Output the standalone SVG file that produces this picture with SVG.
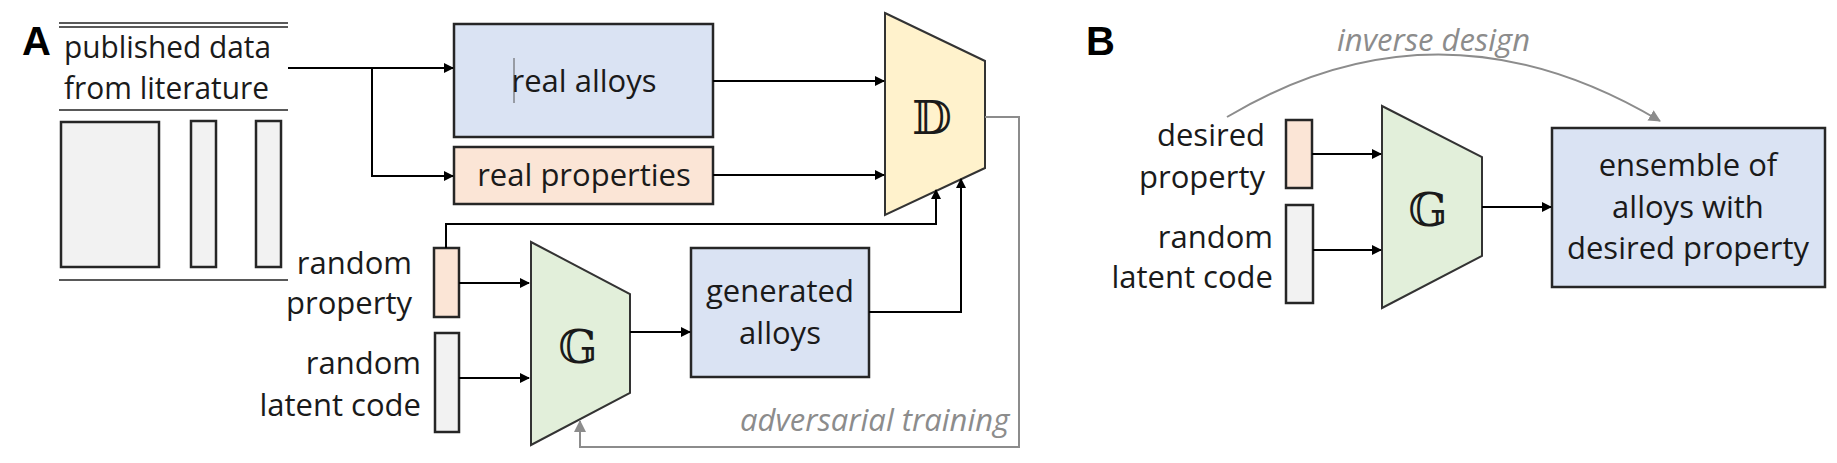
<svg xmlns="http://www.w3.org/2000/svg" width="1837" height="463" viewBox="0 0 1837 463">
<style>
text{font-family:"Open Sans","Noto Sans",sans-serif;font-size:31px;fill:#1a1a1a}
.lab{font-family:"Liberation Sans",sans-serif;font-weight:bold;font-size:40px;fill:#000}
.gr{font-style:italic;fill:#8c8c8c}
.ds{font-family:"DejaVu Serif","DejaVu Sans",serif;font-size:46px;text-anchor:middle}
.mid{text-anchor:middle}.end{text-anchor:end}
.box{stroke:#262626;stroke-width:2.5}
.c{fill:none;stroke:#000;stroke-width:2}
.g{fill:none;stroke:#8c8c8c;stroke-width:2}
.thin{stroke:#595959;stroke-width:2}
</style>
<defs>
<marker id="a" markerWidth="10" markerHeight="10" refX="9" refY="5" orient="auto" markerUnits="userSpaceOnUse"><path d="M0,0L10,5L0,10z" fill="#000"/></marker>
<marker id="ag" markerWidth="12" markerHeight="12" refX="11" refY="6" orient="auto" markerUnits="userSpaceOnUse"><path d="M0,0L12,6L0,12z" fill="#8c8c8c"/></marker>
</defs>
<text class="lab" x="22" y="55">A</text>
<text class="lab" x="1086" y="55">B</text>
<g id="literature">
<line x1="59" y1="23" x2="288" y2="23" class="thin"/><line x1="59" y1="27" x2="288" y2="27" class="thin"/>
<text x="64" y="58" textLength="207" lengthAdjust="spacingAndGlyphs">published data</text>
<text x="64" y="99" textLength="205" lengthAdjust="spacingAndGlyphs">from literature</text>
<line x1="59" y1="110" x2="288" y2="110" class="thin"/>
<rect x="61" y="122" width="98" height="145" fill="#f2f2f2" class="box"/>
<rect x="191" y="121" width="25" height="146" fill="#f2f2f2" class="box"/>
<rect x="256" y="121" width="25" height="146" fill="#f2f2f2" class="box"/>
<line x1="59" y1="280" x2="288" y2="280" class="thin"/>
</g>
<g id="realAlloys"><rect x="454" y="24" width="259" height="113" fill="#dae3f3" class="box"/><line x1="514" y1="58" x2="514" y2="103" stroke="#555" stroke-width="1"/><text class="mid" x="584" y="92">real alloys</text></g>
<g id="realProps"><rect x="454" y="147" width="259" height="57" fill="#fbe5d6" class="box"/><text class="mid" x="584" y="186">real properties</text></g>
<g id="D"><path d="M885,13L985,61L985,168L885,215z" fill="#fff2cc" stroke="#333" stroke-width="2"/><text class="ds" x="932" y="134">𝔻</text></g>
<g id="randProp"><rect x="434" y="248" width="25" height="69" fill="#fbe5d6" class="box"/><text class="end" x="412" y="274">random</text><text class="end" x="412" y="314">property</text></g>
<g id="randLatent"><rect x="435" y="333" width="24" height="99" fill="#f2f2f2" class="box"/><text class="end" x="421" y="374">random</text><text class="end" x="421" y="416">latent code</text></g>
<g id="G"><path d="M531,242L630,294L630,393L531,445z" fill="#e2efda" stroke="#333" stroke-width="2"/><text class="ds" x="578" y="363">𝔾</text></g>
<g id="genAlloys"><rect x="691" y="248" width="178" height="129" fill="#dae3f3" class="box"/><text class="mid" x="780" y="302">generated</text><text class="mid" x="780" y="344">alloys</text></g>
<text class="gr" x="740" y="431">adversarial training</text>
<g id="desProp"><rect x="1286" y="120" width="26" height="68" fill="#fbe5d6" class="box"/><text class="end" x="1265" y="146">desired</text><text class="end" x="1265" y="188">property</text></g>
<g id="randLatentB"><rect x="1286" y="205" width="27" height="98" fill="#f2f2f2" class="box"/><text class="end" x="1273" y="248">random</text><text class="end" x="1273" y="288">latent code</text></g>
<g id="GB"><path d="M1382,106L1482,157L1482,256L1382,308z" fill="#e2efda" stroke="#333" stroke-width="2"/><text class="ds" x="1428" y="226">𝔾</text></g>
<g id="ensemble"><rect x="1552" y="128" width="273" height="159" fill="#dae3f3" class="box"/><text class="mid" x="1688" y="176">ensemble of</text><text class="mid" x="1688" y="218">alloys with</text><text class="mid" x="1688" y="259">desired property</text></g>
<text class="gr" x="1337" y="51">inverse design</text>
<g id="connectors">
<path class="c" d="M288,68H453" marker-end="url(#a)"/>
<path class="c" d="M372,68V176H453" marker-end="url(#a)"/>
<path class="c" d="M713,81H884" marker-end="url(#a)"/>
<path class="c" d="M713,175H884" marker-end="url(#a)"/>
<path class="c" d="M446,248V224H936V190" marker-end="url(#a)"/>
<path class="c" d="M459,283H529" marker-end="url(#a)"/>
<path class="c" d="M459,378H529" marker-end="url(#a)"/>
<path class="c" d="M630,332H690" marker-end="url(#a)"/>
<path class="c" d="M869,312H961V179" marker-end="url(#a)"/>
<path class="g" d="M985,117H1019V447H580V421" marker-end="url(#ag)"/>
<path class="c" d="M1312,154H1381" marker-end="url(#a)"/>
<path class="c" d="M1313,250H1381" marker-end="url(#a)"/>
<path class="c" d="M1482,207H1551" marker-end="url(#a)"/>
<path class="g" d="M1227,117Q1440,-10 1660,121" marker-end="url(#ag)"/>
</g>
</svg>
